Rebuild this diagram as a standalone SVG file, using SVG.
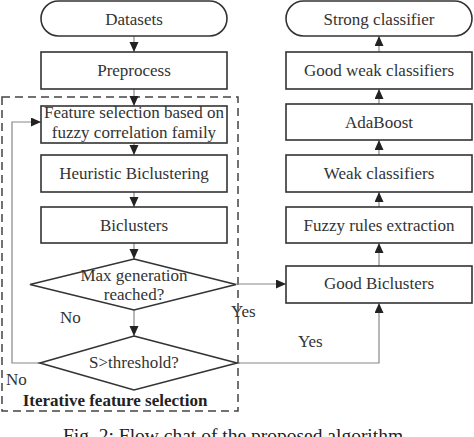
<svg xmlns="http://www.w3.org/2000/svg" width="474" height="437" viewBox="0 0 474 437">
<style>
.b{fill:#fff;stroke:#333;stroke-width:1.6}
.t{font-family:"Liberation Serif","Times New Roman",serif;font-size:17px;fill:#333;text-anchor:middle}
.l{font-family:"Liberation Serif","Times New Roman",serif;font-size:17px;fill:#333}
.c{fill:none;stroke:#888;stroke-width:1.2}
</style>
<defs>
<marker id="ah" markerUnits="userSpaceOnUse" markerWidth="10" markerHeight="10" refX="10" refY="4.5" orient="auto">
<path d="M0,0 L10,4.5 L0,9 z" fill="#222"/>
</marker>
</defs>
<rect width="474" height="437" fill="#fff"/>
<rect x="2" y="97" width="236" height="314" fill="none" stroke="#444" stroke-width="1.5" stroke-dasharray="8,5"/>
<g id="connectors">
<line class="c" x1="134" y1="36" x2="134" y2="52" marker-end="url(#ah)"/>
<line class="c" x1="134" y1="89" x2="134" y2="106" marker-end="url(#ah)"/>
<line class="c" x1="134" y1="143" x2="134" y2="155" marker-end="url(#ah)"/>
<line class="c" x1="134" y1="192" x2="134" y2="207" marker-end="url(#ah)"/>
<line class="c" x1="134" y1="243" x2="134" y2="259" marker-end="url(#ah)"/>
<line class="c" x1="134" y1="310" x2="134" y2="336" marker-end="url(#ah)"/>
<polyline class="c" points="40,363 12,363 12,122 41,122" marker-end="url(#ah)"/>
<line class="c" x1="236" y1="284" x2="286" y2="284" marker-end="url(#ah)"/>
<polyline class="c" points="237,363 379,363 379,303" marker-end="url(#ah)"/>
<line class="c" x1="379" y1="266" x2="379" y2="243" marker-end="url(#ah)"/>
<line class="c" x1="379" y1="207" x2="379" y2="192" marker-end="url(#ah)"/>
<line class="c" x1="379" y1="155" x2="379" y2="140" marker-end="url(#ah)"/>
<line class="c" x1="379" y1="104" x2="379" y2="89" marker-end="url(#ah)"/>
<line class="c" x1="379" y1="52" x2="379" y2="36" marker-end="url(#ah)"/>
<text class="l" x="60" y="323">No</text>
<text class="l" x="6" y="385">No</text>
<text class="l" x="231" y="317">Yes</text>
<text class="l" x="298" y="347">Yes</text>
</g>
<g id="datasets"><rect class="b" x="41" y="1" width="186" height="35" rx="17.5"/><text class="t" x="134" y="24.5">Datasets</text></g>
<g id="preprocess"><rect class="b" x="41" y="52" width="186" height="37"/><text class="t" x="134" y="76">Preprocess</text></g>
<g id="feature-selection"><rect class="b" x="41" y="106" width="186" height="37"/><text class="t" x="134" y="118">Feature selection based on</text><text class="t" x="134" y="138">fuzzy correlation family</text></g>
<g id="heuristic"><rect class="b" x="41" y="155" width="186" height="37"/><text class="t" x="134" y="179">Heuristic Biclustering</text></g>
<g id="biclusters"><rect class="b" x="41" y="207" width="186" height="36"/><text class="t" x="134" y="231">Biclusters</text></g>
<g id="max-generation"><polygon class="b" points="134,259 236,284.5 134,310 30,284.5"/><text class="t" x="134" y="281">Max generation</text><text class="t" x="134" y="300">reached?</text></g>
<g id="threshold"><polygon class="b" points="134,336 237,363 134,390 40,363"/><text class="t" x="134" y="368">S&gt;threshold?</text></g>
<g id="iterative-label"><text x="115" y="406" font-family="Liberation Serif, Times New Roman, serif" font-size="17" font-weight="bold" fill="#222" text-anchor="middle">Iterative feature selection</text></g>
<g id="strong"><rect class="b" x="286" y="1" width="186" height="35" rx="17.5"/><text class="t" x="379" y="24.5">Strong classifier</text></g>
<g id="good-weak"><rect class="b" x="286" y="52" width="186" height="37"/><text class="t" x="379" y="76">Good weak classifiers</text></g>
<g id="adaboost"><rect class="b" x="286" y="104" width="186" height="36"/><text class="t" x="379" y="127.5">AdaBoost</text></g>
<g id="weak"><rect class="b" x="286" y="155" width="186" height="37"/><text class="t" x="379" y="179">Weak classifiers</text></g>
<g id="fuzzy-rules"><rect class="b" x="286" y="207" width="186" height="36"/><text class="t" x="379" y="231">Fuzzy rules extraction</text></g>
<g id="good-biclusters"><rect class="b" x="286" y="266" width="186" height="37"/><text class="t" x="379" y="289">Good Biclusters</text></g>
<text x="63" y="442" font-family="Liberation Serif, Times New Roman, serif" font-size="19.5" fill="#222">Fig. 2: Flow chat of the proposed algorithm</text>
</svg>
